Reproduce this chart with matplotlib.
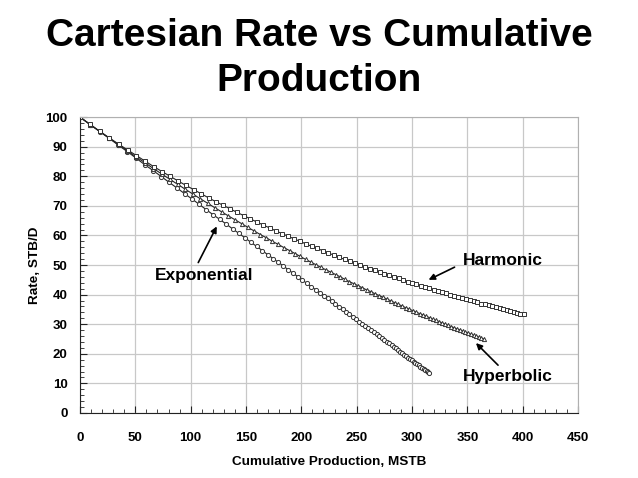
import matplotlib
matplotlib.use("Agg")
import matplotlib.pyplot as plt

plt.rcParams['font.family'] = ['Liberation Sans', 'DejaVu Sans']

#### Data (rate STB/D vs cumulative MSTB) ##################################
exp_np = [0.0, 9.0, 17.8, 26.4, 34.7, 42.9, 50.8, 58.6, 66.2, 73.5,
          80.7, 87.8, 94.6, 101.3, 107.8, 114.1, 120.3, 126.4, 132.3, 138.0,
          143.6, 149.1, 154.4, 159.6, 164.7, 169.6, 174.5, 179.2, 183.7, 188.2,
          192.6, 196.8, 201.0, 205.1, 209.0, 212.8, 216.6, 220.3, 223.9, 227.3,
          230.7, 234.0, 237.3, 240.4, 243.5, 246.5, 249.4, 252.3, 255.1, 257.8,
          260.4, 263.0, 265.5, 268.0, 270.4, 272.7, 275.0, 277.2, 279.4, 281.5,
          283.6, 285.6, 287.6, 289.4, 291.3, 293.1, 294.9, 296.6, 298.3, 300.0,
          301.6, 303.1, 304.7, 306.2, 307.6, 309.0, 310.4, 311.8, 313.1, 314.3,
          315.6]
exp_q = [100.0, 97.5, 95.1, 92.8, 90.5, 88.3, 86.1, 83.9, 81.9, 79.9,
         77.9, 76.0, 74.1, 72.3, 70.5, 68.7, 67.0, 65.4, 63.8, 62.2,
         60.7, 59.2, 57.7, 56.3, 54.9, 53.5, 52.2, 50.9, 49.7, 48.4,
         47.2, 46.1, 44.9, 43.8, 42.7, 41.7, 40.7, 39.7, 38.7, 37.7,
         36.8, 35.9, 35.0, 34.1, 33.3, 32.5, 31.7, 30.9, 30.1, 29.4,
         28.7, 27.9, 27.3, 26.6, 25.9, 25.3, 24.7, 24.1, 23.5, 22.9,
         22.3, 21.8, 21.2, 20.7, 20.2, 19.7, 19.2, 18.7, 18.3, 17.8,
         17.4, 16.9, 16.5, 16.1, 15.7, 15.3, 15.0, 14.6, 14.2, 13.9,
         13.5]

hyp_np = [0.0, 9.0, 17.8, 26.4, 34.8, 42.9, 50.9, 58.7, 66.4, 73.8,
          81.1, 88.2, 95.2, 102.0, 108.7, 115.3, 121.7, 127.9, 134.1, 140.1,
          146.0, 151.8, 157.5, 163.0, 168.5, 173.8, 179.1, 184.2, 189.3, 194.2,
          199.1, 203.9, 208.6, 213.2, 217.7, 222.2, 226.6, 230.9, 235.1, 239.2,
          243.3, 247.4, 251.3, 255.2, 259.0, 262.8, 266.5, 270.2, 273.8, 277.3,
          280.8, 284.2, 287.6, 290.9, 294.2, 297.4, 300.6, 303.7, 306.8, 309.9,
          312.9, 315.8, 318.7, 321.6, 324.4, 327.2, 330.0, 332.7, 335.4, 338.1,
          340.7, 343.3, 345.8, 348.3, 350.8, 353.2, 355.6, 358.0, 360.4, 362.7,
          365.0]
hyp_q = [100.0, 97.5, 95.2, 92.9, 90.7, 88.6, 86.5, 84.6, 82.6, 80.8,
         79.0, 77.3, 75.6, 74.0, 72.4, 70.9, 69.4, 68.0, 66.6, 65.3,
         64.0, 62.7, 61.5, 60.3, 59.2, 58.0, 57.0, 55.9, 54.9, 53.9,
         52.9, 51.9, 51.0, 50.1, 49.2, 48.4, 47.6, 46.8, 46.0, 45.2,
         44.4, 43.7, 43.0, 42.3, 41.6, 41.0, 40.3, 39.7, 39.1, 38.5,
         37.9, 37.3, 36.7, 36.2, 35.6, 35.1, 34.6, 34.1, 33.6, 33.1,
         32.7, 32.2, 31.7, 31.3, 30.9, 30.4, 30.0, 29.6, 29.2, 28.8,
         28.4, 28.1, 27.7, 27.3, 27.0, 26.6, 26.3, 26.0, 25.6, 25.3,
         25.0]

har_np = [0.0, 9.0, 17.8, 26.4, 34.8, 43.0, 51.0, 58.9, 66.5, 74.1,
          81.4, 88.7, 95.8, 102.7, 109.5, 116.2, 122.8, 129.3, 135.6, 141.9,
          148.0, 154.0, 160.0, 165.8, 171.6, 177.2, 182.8, 188.3, 193.7, 199.0,
          204.3, 209.4, 214.5, 219.6, 224.5, 229.4, 234.3, 239.1, 243.8, 248.4,
          253.0, 257.5, 262.0, 266.4, 270.8, 275.1, 279.4, 283.6, 287.8, 291.9,
          296.0, 300.0, 304.0, 308.0, 311.9, 315.7, 319.6, 323.3, 327.1, 330.8,
          334.5, 338.1, 341.7, 345.2, 348.8, 352.3, 355.7, 359.1, 362.5, 365.9,
          369.2, 372.5, 375.8, 379.1, 382.3, 385.5, 388.6, 391.8, 394.9, 397.9,
          401.0]
har_q = [100.0, 97.6, 95.2, 93.0, 90.9, 88.9, 87.0, 85.1, 83.3, 81.6,
         80.0, 78.4, 76.9, 75.5, 74.1, 72.7, 71.4, 70.2, 69.0, 67.8,
         66.7, 65.6, 64.5, 63.5, 62.5, 61.5, 60.6, 59.7, 58.8, 58.0,
         57.1, 56.3, 55.6, 54.8, 54.1, 53.3, 52.6, 51.9, 51.3, 50.6,
         50.0, 49.4, 48.8, 48.2, 47.6, 47.1, 46.5, 46.0, 45.5, 44.9,
         44.4, 44.0, 43.5, 43.0, 42.6, 42.1, 41.7, 41.2, 40.8, 40.4,
         40.0, 39.6, 39.2, 38.8, 38.5, 38.1, 37.7, 37.4, 37.0, 36.7,
         36.4, 36.0, 35.7, 35.4, 35.1, 34.8, 34.5, 34.2, 33.9, 33.6,
         33.3]
############################################################################

fig = plt.figure(figsize=(6.38, 4.78), dpi=100)
ax = fig.add_axes([0.1254, 0.136, 0.7806, 0.619])

mk = dict(color='#222222', lw=0.8, markersize=3.0, markerfacecolor='white',
          markeredgecolor='#333333', markeredgewidth=0.7)
ax.plot(exp_np, exp_q, marker='o', **mk)
ax.plot(hyp_np, hyp_q, marker='^', **mk)
ax.plot(har_np, har_q, marker='s', **mk)

ax.set_xlim(0, 450)
ax.set_ylim(0, 100)
ax.set_xticks(range(0, 451, 50))
ax.set_yticks(range(0, 101, 10))
ax.set_xticks(range(0, 451, 10), minor=True)
ax.set_yticks(range(0, 101, 2), minor=True)
ax.grid(True, which='major', color='#c8c8c8', lw=0.9)
ax.set_axisbelow(True)
ax.tick_params(which='both', direction='in', top=False, right=False, color='#222222')
ax.tick_params(which='major', length=5, labelsize=9.5)
ax.tick_params(which='minor', length=3)
ax.tick_params(axis='x', pad=14)
ax.tick_params(axis='y', pad=9)
for lab in ax.get_xticklabels() + ax.get_yticklabels():
    lab.set_fontweight('bold')
for s in ['top', 'right']:
    ax.spines[s].set_color('#b0b0b0')
for s in ['left', 'bottom']:
    ax.spines[s].set_color('#222222')

ax.set_xlabel('Cumulative Production, MSTB', fontsize=9.7, fontweight='bold', labelpad=8)
ax.set_ylabel('Rate, STB/D', fontsize=9.7, fontweight='bold', labelpad=3)

fig.suptitle('Cartesian Rate vs Cumulative\nProduction', fontsize=28, fontweight='bold',
             y=0.962, linespacing=1.3)

arr = dict(arrowstyle='-|>', color='black', lw=1.2, mutation_scale=9)
ax.annotate('', xy=(124.7, 63.9), xytext=(105.7, 50.0), arrowprops=arr)
ax.text(67.8, 46.3, 'Exponential', fontsize=12.5, fontweight='bold', va='center')
ax.annotate('', xy=(312.7, 44.6), xytext=(340.7, 49.7), arrowprops=arr)
ax.text(346.1, 51.4, 'Harmonic', fontsize=12.5, fontweight='bold', va='center')
ax.annotate('', xy=(356.0, 24.3), xytext=(379.5, 15.5), arrowprops=arr)
ax.text(346.1, 12.2, 'Hyperbolic', fontsize=12.5, fontweight='bold', va='center')

fig.savefig('out.png', dpi=100)
